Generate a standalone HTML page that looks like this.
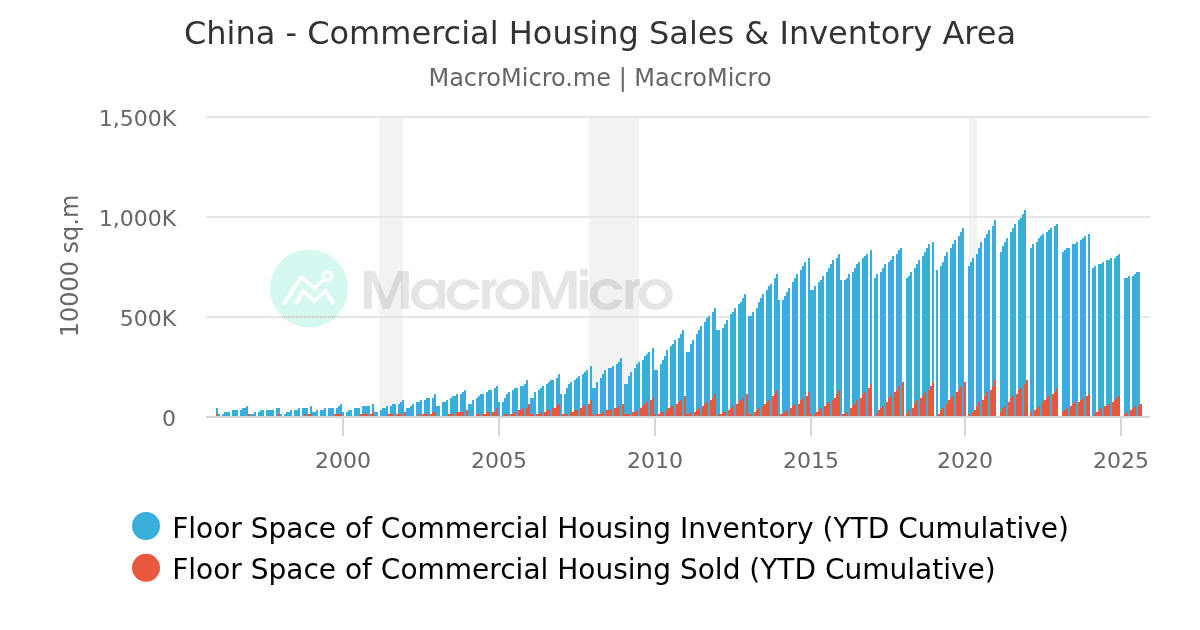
<!DOCTYPE html>
<html><head><meta charset="utf-8"><title>China - Commercial Housing Sales &amp; Inventory Area</title>
<style>html,body{margin:0;padding:0;background:#fff;width:1200px;height:630px;overflow:hidden}
svg{display:block;will-change:transform;font-family:"DejaVu Sans","Liberation Sans",sans-serif}</style></head>
<body><svg width="1200" height="630" viewBox="0 0 1200 630">
<rect width="1200" height="630" fill="#fff"/>
<rect x="379" y="116" width="23.70" height="300" fill="#f2f2f2"/>
<rect x="589" y="116" width="50.00" height="300" fill="#f2f2f2"/>
<rect x="969" y="116" width="8.00" height="300" fill="#f2f2f2"/>
<rect x="206" y="116" width="944" height="2" fill="#e6e6e6"/>
<rect x="206" y="216" width="944" height="2" fill="#e6e6e6"/>
<rect x="206" y="316" width="944" height="2" fill="#e6e6e6"/>
<circle cx="309" cy="288.5" r="39" fill="#d5f8f0"/>
<rect x="282" y="316" width="54" height="1" fill="#dcd7d7"/>
<line x1="282" y1="317.5" x2="336" y2="317.5" stroke="#c4bfbf" stroke-width="1" stroke-dasharray="1 1"/>
<g fill="none" stroke="#fff" stroke-width="3.8" stroke-linejoin="round" stroke-linecap="round">
<polyline points="284.6,302.9 301.3,276.9 314.3,288.2 323.6,279.6"/>
<polyline points="296.0,302.9 303.2,290.9 314.3,300.9 325.7,290.9 333.0,302.9"/>
<circle cx="327.3" cy="276" r="4.2" stroke-width="3.3"/>
</g>
<text transform="translate(360,309) scale(1.12,1)" x="0" y="0" font-family="&quot;TeX Gyre Adventor&quot;,&quot;DejaVu Sans&quot;,sans-serif" font-weight="bold" font-size="52" letter-spacing="-2.7" textLength="277.6" lengthAdjust="spacingAndGlyphs" fill="#000" fill-opacity="0.1">MacroMicro</text>
<path d="M216 408h2V416h-2zM218 414h2V416h-2zM222 414h2V416h-2zM224 412h6V416h-6zM232 410h6V416h-6zM240 410h2V416h-2zM242 408h4V416h-4zM246 406h2V416h-2zM250 414h4V416h-4zM254 412h2V416h-2zM258 412h2V416h-2zM260 410h4V416h-4zM266 410h8V416h-8zM276 408h4V416h-4zM280 414h2V416h-2zM284 414h2V416h-2zM286 412h4V416h-4zM290 410h2V416h-2zM294 410h4V416h-4zM298 408h2V416h-2zM302 408h6V416h-6zM310 406h2V416h-2zM312 412h4V416h-4zM316 410h2V416h-2zM320 410h4V416h-4zM324 408h2V416h-2zM328 408h6V416h-6zM336 408h2V416h-2zM338 406h2V416h-2zM340 404h2V416h-2zM342 412h2V416h-2zM346 412h2V416h-2zM348 410h4V416h-4zM354 408h6V416h-6zM362 406h8V416h-8zM372 404h2V416h-2zM374 412h4V416h-4zM380 410h2V416h-2zM382 408h4V416h-4zM386 406h2V416h-2zM390 406h2V416h-2zM392 404h4V416h-4zM398 404h2V416h-2zM400 402h2V416h-2zM402 400h2V416h-2zM406 408h4V416h-4zM410 406h2V416h-2zM412 404h2V416h-2zM416 402h4V416h-4zM420 400h2V416h-2zM424 400h2V416h-2zM426 398h4V416h-4zM432 398h2V416h-2zM434 394h2V416h-2zM436 406h4V416h-4zM442 402h4V416h-4zM446 400h2V416h-2zM450 398h2V416h-2zM452 396h4V416h-4zM456 394h2V416h-2zM460 394h2V416h-2zM462 392h2V416h-2zM464 390h2V416h-2zM468 404h4V416h-4zM472 400h2V416h-2zM476 398h2V416h-2zM478 396h2V416h-2zM480 394h4V416h-4zM486 392h2V416h-2zM488 390h4V416h-4zM494 388h2V416h-2zM496 386h2V416h-2zM498 402h2V416h-2zM502 402h2V416h-2zM504 398h2V416h-2zM506 394h2V416h-2zM508 392h2V416h-2zM512 390h2V416h-2zM514 388h4V416h-4zM520 386h4V416h-4zM524 384h2V416h-2zM526 380h2V416h-2zM530 398h4V416h-4zM534 392h2V416h-2zM538 390h2V416h-2zM540 388h2V416h-2zM542 386h2V416h-2zM546 384h2V416h-2zM548 382h2V416h-2zM550 380h4V416h-4zM556 378h2V416h-2zM558 374h2V416h-2zM560 394h2V416h-2zM564 394h2V416h-2zM566 388h2V416h-2zM568 384h2V416h-2zM570 382h2V416h-2zM574 380h2V416h-2zM576 378h2V416h-2zM578 376h2V416h-2zM582 374h2V416h-2zM584 372h2V416h-2zM586 370h2V416h-2zM590 366h2V416h-2zM592 388h4V416h-4zM596 382h2V416h-2zM600 378h2V416h-2zM602 374h2V416h-2zM604 370h2V416h-2zM608 368h4V416h-4zM612 366h2V416h-2zM616 364h2V416h-2zM618 362h2V416h-2zM620 358h2V416h-2zM624 384h4V416h-4zM628 376h2V416h-2zM630 372h2V416h-2zM634 368h2V416h-2zM636 364h2V416h-2zM638 362h2V416h-2zM642 360h2V416h-2zM644 356h2V416h-2zM646 354h2V416h-2zM648 352h2V416h-2zM652 348h2V416h-2zM654 370h4V416h-4zM660 364h2V416h-2zM662 360h2V416h-2zM664 356h2V416h-2zM666 350h2V416h-2zM670 346h2V416h-2zM672 344h2V416h-2zM674 340h2V416h-2zM678 338h2V416h-2zM680 334h2V416h-2zM682 330h2V416h-2zM686 352h4V416h-4zM690 344h2V416h-2zM692 340h2V416h-2zM696 334h2V416h-2zM698 330h2V416h-2zM700 326h2V416h-2zM704 322h2V416h-2zM706 318h2V416h-2zM708 316h2V416h-2zM712 312h2V416h-2zM714 308h2V416h-2zM716 330h4V416h-4zM722 328h2V416h-2zM724 324h2V416h-2zM726 320h2V416h-2zM730 314h2V416h-2zM732 312h2V416h-2zM734 308h2V416h-2zM738 304h2V416h-2zM740 302h2V416h-2zM742 298h2V416h-2zM744 294h2V416h-2zM748 316h4V416h-4zM752 312h2V416h-2zM756 308h2V416h-2zM758 302h2V416h-2zM760 298h2V416h-2zM762 294h2V416h-2zM766 290h2V416h-2zM768 286h2V416h-2zM770 284h2V416h-2zM774 278h2V416h-2zM776 274h2V416h-2zM778 300h2V416h-2zM782 300h2V416h-2zM784 296h2V416h-2zM786 292h2V416h-2zM788 288h2V416h-2zM792 282h2V416h-2zM794 278h2V416h-2zM796 274h2V416h-2zM800 270h2V416h-2zM802 266h2V416h-2zM804 262h2V416h-2zM808 258h2V416h-2zM810 290h4V416h-4zM814 286h2V416h-2zM818 282h2V416h-2zM820 280h2V416h-2zM822 276h2V416h-2zM826 272h2V416h-2zM828 268h2V416h-2zM830 264h2V416h-2zM832 260h2V416h-2zM836 258h2V416h-2zM838 254h2V416h-2zM840 280h2V416h-2zM844 280h2V416h-2zM846 278h2V416h-2zM848 274h2V416h-2zM852 272h2V416h-2zM854 268h2V416h-2zM856 264h2V416h-2zM858 262h2V416h-2zM862 258h2V416h-2zM864 256h2V416h-2zM866 254h2V416h-2zM870 250h2V416h-2zM874 278h2V416h-2zM876 274h2V416h-2zM880 272h2V416h-2zM882 268h2V416h-2zM884 264h2V416h-2zM888 262h2V416h-2zM890 260h2V416h-2zM892 256h2V416h-2zM896 254h2V416h-2zM898 250h2V416h-2zM900 248h2V416h-2zM906 278h2V416h-2zM908 276h2V416h-2zM910 272h2V416h-2zM914 268h2V416h-2zM916 264h2V416h-2zM918 260h2V416h-2zM922 256h2V416h-2zM924 252h2V416h-2zM926 248h2V416h-2zM928 244h2V416h-2zM932 242h2V416h-2zM936 270h2V416h-2zM940 266h2V416h-2zM942 262h2V416h-2zM944 256h2V416h-2zM946 252h2V416h-2zM950 248h2V416h-2zM952 244h2V416h-2zM954 240h2V416h-2zM958 236h2V416h-2zM960 232h2V416h-2zM962 228h2V416h-2zM968 266h2V416h-2zM970 262h2V416h-2zM972 258h2V416h-2zM976 254h2V416h-2zM978 248h2V416h-2zM980 242h2V416h-2zM984 238h2V416h-2zM986 234h2V416h-2zM988 230h2V416h-2zM992 226h2V416h-2zM994 220h2V416h-2zM1000 252h2V416h-2zM1002 246h2V416h-2zM1004 242h2V416h-2zM1006 238h2V416h-2zM1010 232h2V416h-2zM1012 228h2V416h-2zM1014 224h2V416h-2zM1018 220h2V416h-2zM1020 218h2V416h-2zM1022 214h2V416h-2zM1024 210h2V416h-2zM1030 248h2V416h-2zM1032 244h2V416h-2zM1036 242h2V416h-2zM1038 238h2V416h-2zM1040 236h2V416h-2zM1042 234h2V416h-2zM1046 232h2V416h-2zM1048 230h2V416h-2zM1050 228h2V416h-2zM1054 226h2V416h-2zM1056 224h2V416h-2zM1062 252h2V416h-2zM1064 250h2V416h-2zM1066 248h4V416h-4zM1072 244h4V416h-4zM1076 242h2V416h-2zM1080 240h2V416h-2zM1082 238h2V416h-2zM1084 236h2V416h-2zM1088 234h2V416h-2zM1092 268h2V416h-2zM1094 266h2V416h-2zM1098 264h4V416h-4zM1102 262h2V416h-2zM1106 260h4V416h-4zM1110 258h2V416h-2zM1114 258h2V416h-2zM1116 256h2V416h-2zM1118 254h2V416h-2zM1124 278h4V416h-4zM1128 276h2V416h-2zM1132 276h2V416h-2zM1134 274h2V416h-2zM1136 272h4V416h-4z" fill="#3aaedb"/>
<path d="M216 414h2V416h-2zM248 414h2V416h-2zM278 414h2V416h-2zM304 414h2V416h-2zM308 414h4V416h-4zM334 414h8V416h-8zM360 414h8V416h-8zM370 414h2V416h-2zM372 412h2V416h-2zM388 414h6V416h-6zM396 414h6V416h-6zM404 412h2V416h-2zM418 414h2V416h-2zM422 414h6V416h-6zM430 414h2V416h-2zM432 412h4V416h-4zM448 414h6V416h-6zM456 412h8V416h-8zM466 410h2V416h-2zM476 414h4V416h-4zM482 414h4V416h-4zM486 412h4V416h-4zM492 412h4V416h-4zM496 408h2V416h-2zM504 414h4V416h-4zM510 414h4V416h-4zM514 412h2V416h-2zM518 410h4V416h-4zM522 408h2V416h-2zM526 408h2V416h-2zM528 404h2V416h-2zM530 414h4V416h-4zM536 414h4V416h-4zM540 412h2V416h-2zM544 412h2V416h-2zM546 410h4V416h-4zM552 408h4V416h-4zM556 406h2V416h-2zM558 404h2V416h-2zM562 414h6V416h-6zM570 412h4V416h-4zM574 410h4V416h-4zM580 408h2V416h-2zM582 406h4V416h-4zM588 404h2V416h-2zM590 400h2V416h-2zM592 414h2V416h-2zM596 414h6V416h-6zM602 412h2V416h-2zM606 410h6V416h-6zM614 408h4V416h-4zM618 406h2V416h-2zM622 404h2V416h-2zM624 414h6V416h-6zM632 412h4V416h-4zM636 410h2V416h-2zM640 408h2V416h-2zM642 406h2V416h-2zM644 404h2V416h-2zM646 402h2V416h-2zM650 400h2V416h-2zM652 398h2V416h-2zM654 414h2V416h-2zM658 414h2V416h-2zM660 412h4V416h-4zM666 410h2V416h-2zM668 408h2V416h-2zM670 406h4V416h-4zM676 404h2V416h-2zM678 402h2V416h-2zM680 400h2V416h-2zM684 396h2V416h-2zM686 414h4V416h-4zM690 412h2V416h-2zM694 412h2V416h-2zM696 410h2V416h-2zM698 408h2V416h-2zM702 406h2V416h-2zM704 404h2V416h-2zM706 402h2V416h-2zM710 400h2V416h-2zM712 398h2V416h-2zM714 394h2V416h-2zM718 414h4V416h-4zM722 412h4V416h-4zM728 410h2V416h-2zM730 408h2V416h-2zM732 406h2V416h-2zM736 404h2V416h-2zM738 402h2V416h-2zM740 400h2V416h-2zM742 398h2V416h-2zM746 394h2V416h-2zM748 414h4V416h-4zM754 412h2V416h-2zM756 410h2V416h-2zM758 408h2V416h-2zM762 406h2V416h-2zM764 404h2V416h-2zM766 402h2V416h-2zM768 400h2V416h-2zM772 396h2V416h-2zM774 394h2V416h-2zM776 390h2V416h-2zM780 414h4V416h-4zM784 412h2V416h-2zM786 410h2V416h-2zM790 408h2V416h-2zM792 406h2V416h-2zM794 404h2V416h-2zM798 404h2V416h-2zM800 400h2V416h-2zM802 398h2V416h-2zM806 396h2V416h-2zM808 392h2V416h-2zM810 414h2V416h-2zM814 414h2V416h-2zM816 412h2V416h-2zM818 410h2V416h-2zM820 408h2V416h-2zM824 406h2V416h-2zM826 404h2V416h-2zM828 402h2V416h-2zM832 400h2V416h-2zM834 398h2V416h-2zM836 394h2V416h-2zM838 390h2V416h-2zM842 414h4V416h-4zM846 412h2V416h-2zM850 408h2V416h-2zM852 406h2V416h-2zM854 404h2V416h-2zM856 400h2V416h-2zM860 398h2V416h-2zM862 394h2V416h-2zM864 392h2V416h-2zM868 388h2V416h-2zM870 384h2V416h-2zM876 414h2V416h-2zM878 410h2V416h-2zM880 408h2V416h-2zM882 406h2V416h-2zM886 402h2V416h-2zM888 398h2V416h-2zM890 396h2V416h-2zM894 392h2V416h-2zM896 390h2V416h-2zM898 386h2V416h-2zM902 382h2V416h-2zM906 414h2V416h-2zM908 410h2V416h-2zM912 408h2V416h-2zM914 404h2V416h-2zM916 400h2V416h-2zM920 398h2V416h-2zM922 396h2V416h-2zM924 392h2V416h-2zM928 390h2V416h-2zM930 386h2V416h-2zM932 382h2V416h-2zM938 414h2V416h-2zM940 410h2V416h-2zM942 408h2V416h-2zM946 404h2V416h-2zM948 400h2V416h-2zM950 398h2V416h-2zM952 396h2V416h-2zM956 392h2V416h-2zM958 390h2V416h-2zM960 386h2V416h-2zM964 382h2V416h-2zM968 414h2V416h-2zM972 412h2V416h-2zM974 410h2V416h-2zM976 406h2V416h-2zM978 402h2V416h-2zM982 400h2V416h-2zM984 396h2V416h-2zM986 392h2V416h-2zM990 390h2V416h-2zM992 386h2V416h-2zM994 380h2V416h-2zM1000 412h2V416h-2zM1002 408h2V416h-2zM1004 406h2V416h-2zM1008 402h2V416h-2zM1010 398h2V416h-2zM1012 396h2V416h-2zM1016 394h2V416h-2zM1018 390h2V416h-2zM1020 388h2V416h-2zM1024 384h2V416h-2zM1026 380h2V416h-2zM1030 412h2V416h-2zM1034 410h2V416h-2zM1036 408h2V416h-2zM1038 406h2V416h-2zM1042 402h2V416h-2zM1044 400h2V416h-2zM1046 398h2V416h-2zM1048 396h2V416h-2zM1052 394h2V416h-2zM1054 392h2V416h-2zM1056 388h2V416h-2zM1062 412h2V416h-2zM1064 410h2V416h-2zM1066 408h2V416h-2zM1070 406h2V416h-2zM1072 404h2V416h-2zM1074 402h2V416h-2zM1078 402h2V416h-2zM1080 400h2V416h-2zM1082 398h2V416h-2zM1086 396h2V416h-2zM1088 394h2V416h-2zM1094 414h2V416h-2zM1096 412h2V416h-2zM1098 410h2V416h-2zM1100 408h2V416h-2zM1104 406h4V416h-4zM1108 404h2V416h-2zM1112 402h2V416h-2zM1114 400h2V416h-2zM1116 398h2V416h-2zM1118 396h2V416h-2zM1124 414h2V416h-2zM1126 412h2V416h-2zM1130 410h2V416h-2zM1132 408h2V416h-2zM1134 406h2V416h-2zM1138 406h2V416h-2zM1140 404h2V416h-2z" fill="#e8573e"/>
<rect x="206" y="416" width="944" height="2" fill="#d4d6d6"/>
<rect x="342" y="418" width="2" height="18" fill="#d6d6d6"/>
<rect x="498" y="418" width="2" height="18" fill="#d6d6d6"/>
<rect x="654" y="418" width="2" height="18" fill="#d6d6d6"/>
<rect x="810" y="418" width="2" height="18" fill="#d6d6d6"/>
<rect x="964" y="418" width="2" height="18" fill="#d6d6d6"/>
<rect x="1120" y="418" width="2" height="18" fill="#d6d6d6"/>
<text x="343" y="468" font-size="22" fill="#666666" text-anchor="middle" >2000</text>
<text x="499" y="468" font-size="22" fill="#666666" text-anchor="middle" >2005</text>
<text x="655" y="468" font-size="22" fill="#666666" text-anchor="middle" >2010</text>
<text x="811" y="468" font-size="22" fill="#666666" text-anchor="middle" >2015</text>
<text x="965" y="468" font-size="22" fill="#666666" text-anchor="middle" >2020</text>
<text x="1121" y="468" font-size="22" fill="#666666" text-anchor="middle" >2025</text>
<text x="176.1" y="126" font-size="22" fill="#666666" text-anchor="end" >1,500K</text>
<text x="176.1" y="226" font-size="22" fill="#666666" text-anchor="end" >1,000K</text>
<text x="176.1" y="326" font-size="22" fill="#666666" text-anchor="end" >500K</text>
<text x="176.1" y="426" font-size="22" fill="#666666" text-anchor="end" >0</text>
<text x="0" y="0" font-size="24" fill="#666666" text-anchor="middle" transform="translate(78,266) rotate(-90)">10000 sq.m</text>
<text x="600" y="43.9" font-size="32" fill="#333333" text-anchor="middle" >China - Commercial Housing Sales &amp; Inventory Area</text>
<text x="600" y="85.5" font-size="24" fill="#666666" text-anchor="middle" >MacroMicro.me | MacroMicro</text>
<circle cx="146" cy="526" r="14" fill="#3aaedb"/>
<circle cx="146" cy="567.8" r="14" fill="#e8573e"/>
<text x="172.2" y="537.5" font-size="28" fill="#000000" text-anchor="start" >Floor Space of Commercial Housing Inventory (YTD Cumulative)</text>
<text x="172.2" y="579.2" font-size="28" fill="#000000" text-anchor="start" >Floor Space of Commercial Housing Sold (YTD Cumulative)</text>
</svg></body></html>
